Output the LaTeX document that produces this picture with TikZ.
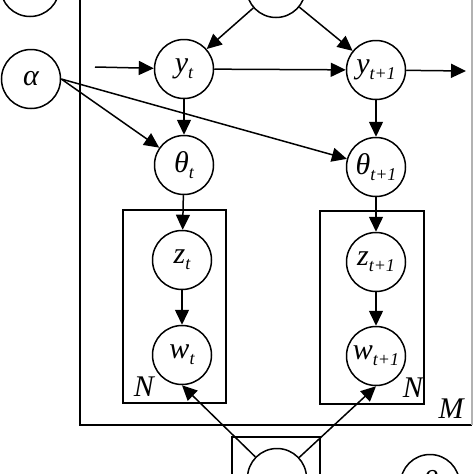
\documentclass[tikz,border=0pt]{standalone}
\usepackage{fontspec}
\setmainfont{Liberation Serif}
\usetikzlibrary{arrows.meta}
\newcommand{\lab}[2]{{\fontsize{30}{30}\selectfont\itshape #1\raisebox{-6pt}{\fontsize{18}{18}\selectfont #2}}}
\newcommand{\bigit}[1]{{\fontsize{30}{30}\selectfont\itshape #1}}
\begin{document}
\begin{tikzpicture}[x=1pt,y=-1pt,
  var/.style={circle,draw,line width=1.5pt,minimum size=59pt,inner sep=0pt},
  edge/.style={line width=1.5pt,-{Triangle[length=15pt,width=14pt]}},
  plate/.style={draw,line width=1.5pt}]
\useasboundingbox (0,0) rectangle (474,474);
\clip (0,0) rectangle (474,474);
\fill[white] (0,0) rectangle (474,474);
% plates
\draw[plate] (472,-20) -- (80,-20) -- (80,425) -- (472,425);
\draw[plate,gray!60] (472,-20) -- (472,425);
\draw[plate] (123,210) rectangle (226,403);
\draw[plate] (320,211) rectangle (424,404);
\draw[plate] (232,437) rectangle (320,520);
% nodes
\node[var] (tl) at (30,-13) {};
\node[var] (top) at (276,-12) {};
\node[var] (alpha) at (31,79) {\bigit{α}};
\node[var] (y1) at (184,69) {\lab{y}{t}};
\node[var] (y2) at (376,70) {\lab{y}{t+1}};
\node[var] (th1) at (184,165) {\lab{θ}{t}};
\node[var] (th2) at (376,167) {\lab{θ}{t+1}};
\node[var] (z1) at (182,260) {\lab{z}{t}};
\node[var] (z2) at (376,262) {\lab{z}{t+1}};
\node[var] (w1) at (182,355) {\lab{w}{t}};
\node[var] (w2) at (376,356) {\lab{w}{t+1}};
\node[var] (phi) at (277,478) {};
\node[var] (beta) at (430,484) {\bigit{β}};
\node (n1) at (144,387) {\bigit{N}};
\node (n2) at (413,388) {\bigit{N}};
\node (m) at (451,409) {\bigit{M}};
\coordinate (in) at (95,67);
\coordinate (out) at (466,71);
% edges
\draw[edge] (top) -- (y1);
\draw[edge] (top) -- (y2);
\draw[edge] (in) -- (y1);
\draw[edge] (y1) -- (y2);
\draw[edge] (y2) -- (out);
\draw[edge] (alpha.east) -- (th1);
\draw[edge] (alpha.east) -- (th2);
\draw[edge] (y1) -- (th1);
\draw[edge] (y2) -- (th2);
\draw[edge] (th1) -- (z1);
\draw[edge] (th2) -- (z2);
\draw[edge] (z1) -- (w1);
\draw[edge] (z2) -- (w2);
\draw[edge] (phi) -- (w1.south);
\draw[edge] (phi) -- (w2.south);
\end{tikzpicture}
\end{document}
